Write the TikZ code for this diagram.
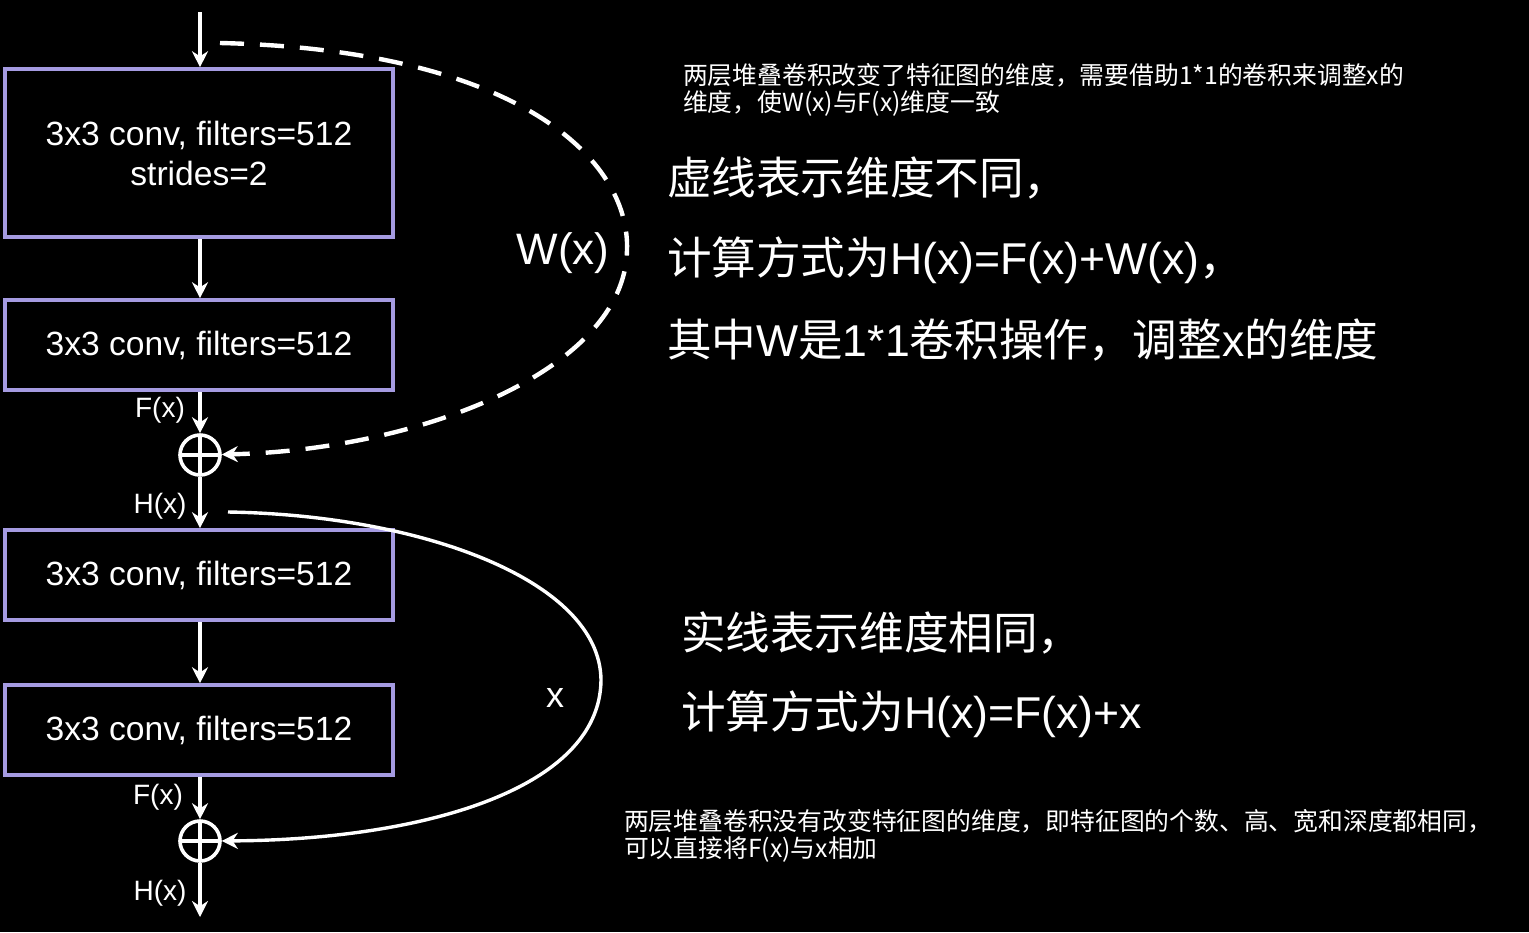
\documentclass[tikz,border=0pt]{standalone}
\usetikzlibrary{arrows.meta}
\usepackage{fontspec}
\setmainfont{Liberation Sans}
\newfontfamily\cjk{Noto Sans CJK SC}
\begin{document}
\begin{tikzpicture}[x=0.5pt,y=-0.5pt,
  blk/.style={draw=lav,line width=1.8pt,minimum width=194pt,inner sep=0pt,text=white,font=\fontsize{16.8}{20}\selectfont,align=center},
  sm/.style={circle,draw=white,line width=1.8pt,minimum size=20pt,inner sep=0pt,path picture={\draw[white,line width=1.8pt](path picture bounding box.north)--(path picture bounding box.south)(path picture bounding box.west)--(path picture bounding box.east);}},
  arr/.style={white,line width=1.7pt,-{Stealth[length=8pt,width=8pt]}},
  lbl/.style={text=white,font=\fontsize{14}{16}\selectfont},
  big/.style={text=white,anchor=west,font=\fontsize{22.3}{26}\selectfont},
  small/.style={text=white,anchor=north west,align=left,font=\cjk\fontsize{12.4}{13.5}\selectfont}]
\definecolor{lav}{RGB}{165,155,225}
\fill[black] (0,0) rectangle (1529,932);
\useasboundingbox (0,0) rectangle (1529,932);
\coordinate (top) at (200,12);
\coordinate (bot) at (200,917);
\node[blk,minimum height=84pt] (b1) at (199,153) {3x3 conv, filters=512\\strides=2};
\node[blk,minimum height=45pt] (b2) at (199,345) {3x3 conv, filters=512};
\node[blk,minimum height=45pt] (b3) at (199,575) {3x3 conv, filters=512};
\node[blk,minimum height=45pt] (b4) at (199,730) {3x3 conv, filters=512};
\node[sm] (c1) at (200,455) {};
\node[sm] (c2) at (200,841) {};
\draw[arr] (top) -- (b1.north -| top);
\draw[arr] (b1.south -| top) -- (b2.north -| top);
\draw[arr] (b2.south -| top) -- (c1);
\draw[arr] (c1) -- (b3.north -| top);
\draw[arr] (b3.south -| top) -- (b4.north -| top);
\draw[arr] (b4.south -| top) -- (c2);
\draw[arr] (c2) -- (bot);
\coordinate (ds) at (220,43);
\coordinate (ss) at (228,512);
\draw[arr,line width=2.2pt,dash pattern=on 12pt off 8pt] (ds) .. controls (520,50) and (630,160) .. (627,250) .. controls (625,370) and (420,450) .. (c1);
\draw[arr] (ss) .. controls (420,515) and (600,580) .. (601,680) .. controls (600,790) and (420,840) .. (c2);
\node[lbl] at (160,410) {F(x)};
\node[lbl] at (160,506) {H(x)};
\node[lbl] at (158,797) {F(x)};
\node[lbl] at (160,893) {H(x)};
\node[text=white,font=\fontsize{22}{26}\selectfont] at (563,253) {W(x)};
\node[text=white,font=\fontsize{18}{22}\selectfont] at (555,698) {x};
\node[small] at (676,56) {两层堆叠卷积改变了特征图的维度，需要借助1*1的卷积来调整x的\\维度，使W(x)与F(x)维度一致};
\node[big] at (660,178) {\cjk 虚线表示维度不同，};
\node[big] at (660,260) {{\cjk 计算方式为}H(x)=F(x)+W(x){\cjk ，}};
\node[big] at (660,340) {{\cjk 其中}W{\cjk 是}1*1{\cjk 卷积操作，调整}x{\cjk 的维度}};
\node[big] at (674,633) {\cjk 实线表示维度相同，};
\node[big] at (674,714) {{\cjk 计算方式为}H(x)=F(x)+x};
\node[small] at (617,802) {两层堆叠卷积没有改变特征图的维度，即特征图的个数、高、宽和深度都相同，\\可以直接将F(x)与x相加};
\end{tikzpicture}
\end{document}
